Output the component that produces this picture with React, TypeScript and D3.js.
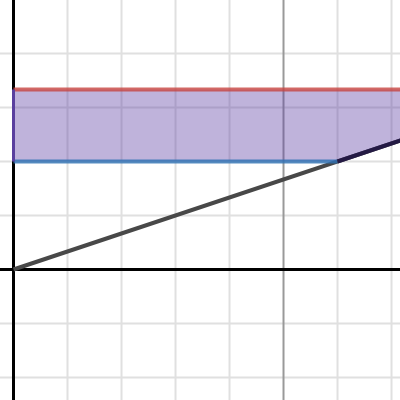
import * as d3 from "d3";

// plot window in graph units
const xDomain: [number, number] = [-0.25, 7.157];
const yDomain: [number, number] = [-2.417, 4.991];

// grid every unit, darker major line every 5
const gridStep = 1;
const majorStep = 5;

// graphed pieces
const diagonalLine = [{ x: 0, y: 0 }, { x: 7.5, y: 2.5 }];
const upperLine = [{ x: 0, y: 10 / 3 }, { x: 7.5, y: 10 / 3 }];
const lowerLine = [{ x: 0, y: 2 }, { x: 6, y: 2 }];
const leftEdge = [{ x: 0, y: 2 }, { x: 0, y: 10 / 3 }];
const diagonalEdge = [{ x: 6, y: 2 }, { x: 7.5, y: 2.5 }];
const region = [
    { x: 0, y: 2 },
    { x: 6, y: 2 },
    { x: 7.5, y: 2.5 },
    { x: 7.5, y: 10 / 3 },
    { x: 0, y: 10 / 3 },
];

const App = () => {
    const width = 400;
    const height = 400;

    const x = d3.scaleLinear().domain(xDomain).range([0, width]);
    const y = d3.scaleLinear().domain(yDomain).range([height, 0]);

    const line = d3.line<{ x: number, y: number }>().x(d => x(d.x)).y(d => y(d.y));

    const gridXs = d3.range(Math.ceil(xDomain[0]), Math.floor(xDomain[1]) + 1, gridStep).filter(v => v !== 0);
    const gridYs = d3.range(Math.ceil(yDomain[0]), Math.floor(yDomain[1]) + 1, gridStep).filter(v => v !== 0);
    const isMajor = (v: number) => v % majorStep === 0;

    return (
        <svg width={width} height={height} style={{ position: 'absolute', left: 0, top: 0, display: 'block', background: '#fff' }}>
            <defs>
                <clipPath id="plot">
                    <rect width={width} height={height} />
                </clipPath>
            </defs>
            <g clipPath="url(#plot)">
                {/* minor grid */}
                {gridXs.filter(v => !isMajor(v)).map(v => (
                    <line key={'gx' + v} x1={x(v)} x2={x(v)} y1={0} y2={height} stroke="#e0e0e0" strokeWidth={2} />
                ))}
                {gridYs.filter(v => !isMajor(v)).map(v => (
                    <line key={'gy' + v} x1={0} x2={width} y1={y(v)} y2={y(v)} stroke="#e0e0e0" strokeWidth={2} />
                ))}
                {/* major grid */}
                {gridXs.filter(isMajor).map(v => (
                    <line key={'mx' + v} x1={x(v)} x2={x(v)} y1={0} y2={height} stroke="#999" strokeWidth={2} />
                ))}
                {gridYs.filter(isMajor).map(v => (
                    <line key={'my' + v} x1={0} x2={width} y1={y(v)} y2={y(v)} stroke="#999" strokeWidth={2} />
                ))}
                {/* axes */}
                <line x1={0} x2={width} y1={y(0)} y2={y(0)} stroke="#000" strokeWidth={3} />
                <line x1={x(0)} x2={x(0)} y1={0} y2={height} stroke="#000" strokeWidth={3} />

                <path d={line(diagonalLine)} fill="none" stroke="#484848" strokeWidth={4} />

                <path d={line(region) + 'Z'} fill="#6042a6" fillOpacity={0.4} stroke="none" />

                <path d={line(upperLine)} fill="none" stroke="#c74440" strokeOpacity={0.8} strokeWidth={4} />
                <path d={line(lowerLine)} fill="none" stroke="#2d70b3" strokeOpacity={0.8} strokeWidth={4} />
                <path d={line(leftEdge)} fill="none" stroke="#5a3f9e" strokeWidth={3} />
                <path d={line(diagonalEdge)} fill="none" stroke="#241a44" strokeWidth={4} />
            </g>
        </svg>
    );
}

export default App;
